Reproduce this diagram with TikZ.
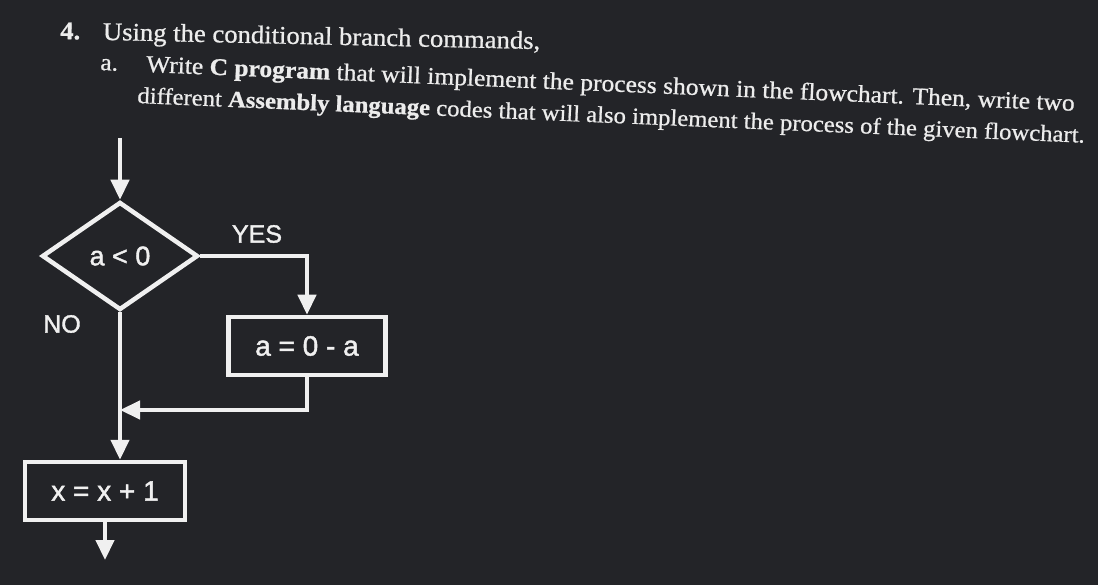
\documentclass[tikz,border=0pt]{standalone}
\usepackage{fontspec}
\setmainfont{Liberation Serif}
\newfontfamily\hdrfont{Liberation Serif}[UprightFeatures={FakeBold=0.8},BoldFont={Liberation Serif Bold},BoldFeatures={FakeBold=0.8}]
\newfontfamily\flowfont{Liberation Sans}[UprightFeatures={FakeBold=1.5}]
\usetikzlibrary{shapes.geometric,arrows.meta}
\definecolor{bgc}{HTML}{232428}
\definecolor{inkc}{HTML}{F0F0F0}
\definecolor{txtc}{HTML}{ECECEC}
\begin{document}
\begin{tikzpicture}[x=1pt,y=-1pt,
  line/.style={draw=inkc,line width=4.5pt},
  arr/.style={line,-{Triangle[length=20pt,width=18pt]}},
  procbox/.style={draw=inkc,line width=4.5pt,rectangle,inner sep=0pt,font=\flowfont\fontsize{28}{30}\selectfont,text=inkc},
  decbox/.style={draw=inkc,line width=4.5pt,diamond,aspect=1.44,minimum width=156pt,minimum height=108pt,inner sep=0pt,font=\flowfont\fontsize{27}{30}\selectfont,text=inkc},
  lbl/.style={font=\flowfont\fontsize{25}{28}\selectfont,text=inkc,inner sep=0pt},
  hdr/.style={anchor=base west,inner sep=0pt,text=txtc,font=\hdrfont\fontsize{20}{24}\selectfont}]
\fill[bgc] (0,0) rectangle (1098,585);
\useasboundingbox (0,0) rectangle (1098,585);
% header
\node[hdr,rotate=-1.2] (h1) at (60,39) {\scalebox{1}[0.95]{\resizebox{480pt}{!}{\textbf{4.}\hspace{0.85em}Using the conditional branch commands,}}};
\node[hdr,rotate=-2.4] (h2) at (100,70) {\scalebox{1}[0.94]{\resizebox{975pt}{!}{a.\hspace{1.1em}Write \textbf{C program} that will implement the process shown in the flowchart. Then, write two}}};
\node[hdr,rotate=-2.4] (h3) at (137,103) {\scalebox{1}[0.94]{\resizebox{948pt}{!}{different \textbf{Assembly language} codes that will also implement the process of the given flowchart.}}};
% flowchart
\node[decbox] (d) at (120,256) {a < 0};
\node[procbox,minimum width=157pt,minimum height=58pt] (b1) at (307,346) {a = 0 - a};
\node[procbox,minimum width=160pt,minimum height=58pt] (b2) at (105,491) {x = x + 1};
\node[lbl] (yes) at (257,234) {YES};
\node[lbl] (no) at (62,324) {NO};
\coordinate (in) at (120,138);
\coordinate (out) at (105,560);
\coordinate (m) at (120,410);
\draw[arr] (in) -- (d.north);
\draw[arr] (d.east) -| (b1.north);
\draw[arr] (d.south) -- (d.south |- b2.north);
\draw[arr] (b1.south) |- (m);
\draw[arr] (b2.south) -- (out);
\end{tikzpicture}
\end{document}
